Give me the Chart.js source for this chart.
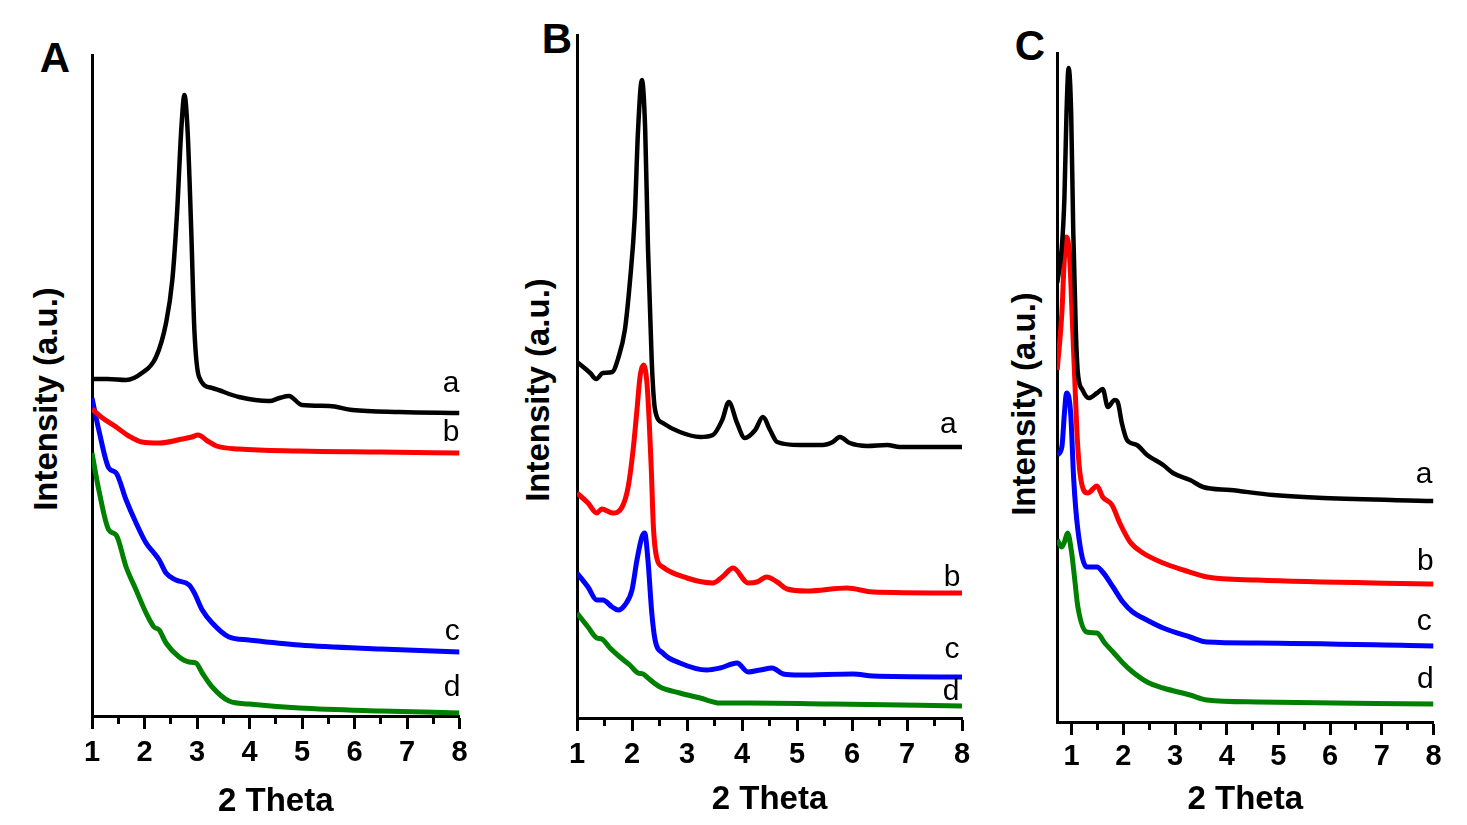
<!DOCTYPE html>
<html>
<head>
<meta charset="utf-8">
<title>XRD patterns</title>
<script src="https://cdn.jsdelivr.net/npm/chart.js@4.4.1/dist/chart.umd.min.js"></script>
<style>
    body {
        margin: 0;
        width: 1467px;
        height: 825px;
        overflow: hidden;
        position: relative;
        background: #fff;
        font-family: Arial, "Liberation Sans", sans-serif;
        color: #000;
    }
    canvas { position: absolute; top: 0; }
    .panel-tag {
        position: absolute;
        font-weight: bold;
        font-size: 42px;
        line-height: 1;
        transform: translate(-50%, -50%);
    }
    .y-title {
        position: absolute;
        font-weight: bold;
        font-size: 33px;
        line-height: 1;
        white-space: nowrap;
        transform: translate(-50%, -50%) rotate(-90deg);
    }
</style>
</head>
<body>
<div class="panel-tag" style="left:55px;top:58px">A</div>
<div class="panel-tag" style="left:557px;top:39px">B</div>
<div class="panel-tag" style="left:1030px;top:46px">C</div>
<div class="y-title" style="left:45px;top:399px">Intensity (a.u.)</div>
<div class="y-title" style="left:537px;top:390px">Intensity (a.u.)</div>
<div class="y-title" style="left:1023px;top:404px">Intensity (a.u.)</div>
<canvas id="chartA" width="480" height="825" style="left:0px"></canvas>
<canvas id="chartB" width="490" height="825" style="left:490px"></canvas>
<canvas id="chartC" width="477" height="825" style="left:990px"></canvas>

<script>
"use strict";

// ---- data: [2 theta, intensity (a.u., offset stacked)] ----
const curveNames = ['a', 'b', 'c', 'd'];
const curveColors = ['#000000', '#ff0000', '#0000ff', '#008000'];

const A_a = [[1.0,337],[1.3,337],[1.65,336],[1.95,343],[2.22,359],[2.41,393],[2.53,436],[2.62,503],[2.70,586],[2.76,621],[2.82,586],[2.89,486],[2.95,386],[3.04,339],[3.29,328],[3.8,319],[4.38,315],[4.57,318],[4.75,320],[5.0,311],[5.52,310],[5.96,306],[6.86,304],[8.0,303]];
const A_b = [[1.0,307],[1.2,298],[1.46,289],[1.7,280],[1.95,274],[2.28,273],[2.72,277],[2.9,279],[3.02,281],[3.2,275],[3.37,270],[3.8,267],[4.95,265],[6.5,264],[8.0,263]];
const A_c = [[1.0,318],[1.13,286],[1.32,248],[1.46,243],[1.65,216],[1.84,193],[2.03,173],[2.18,163],[2.28,156],[2.41,143],[2.6,136],[2.85,131],[2.95,123],[3.1,106],[3.29,93],[3.61,79],[3.99,76],[4.95,71],[6.5,67],[8.0,64]];
const A_d = [[1.0,263],[1.13,226],[1.32,186],[1.46,181],[1.65,149],[1.84,126],[2.03,103],[2.18,89],[2.28,86],[2.41,73],[2.66,59],[2.85,54],[2.98,53],[3.1,43],[3.29,29],[3.61,15],[3.99,12],[4.95,8],[6.5,5],[8.0,3]];

const B_a = [[1.0,356],[1.24,345],[1.35,339],[1.47,345],[1.64,346],[1.75,360],[1.87,388],[1.96,435],[2.05,501],[2.11,588],[2.18,638],[2.24,588],[2.29,471],[2.36,355],[2.42,308],[2.56,295],[2.87,286],[3.24,281],[3.47,283],[3.64,298],[3.76,316],[3.91,295],[4.05,280],[4.24,288],[4.38,301],[4.51,288],[4.64,276],[5.05,273],[5.47,273],[5.65,276],[5.78,281],[5.96,275],[6.27,272],[6.64,273],[6.87,271],[8.0,271]];
const B_b = [[1.0,225],[1.2,215],[1.36,205],[1.45,209],[1.65,205],[1.82,211],[1.93,231],[2.02,268],[2.09,308],[2.15,343],[2.21,353],[2.27,336],[2.31,300],[2.35,250],[2.39,190],[2.45,160],[2.56,151],[3.0,140],[3.47,135],[3.64,141],[3.84,150],[4.11,135],[4.27,136],[4.45,141],[4.64,136],[4.82,129],[5.18,127],[5.91,130],[6.38,126],[8.0,125]];
const B_c = [[1.0,145],[1.2,131],[1.36,118],[1.47,118],[1.64,111],[1.75,108],[1.87,113],[2.0,128],[2.09,158],[2.18,181],[2.23,185],[2.29,158],[2.36,105],[2.42,78],[2.56,65],[2.87,55],[3.36,48],[3.6,50],[3.91,55],[4.11,46],[4.33,48],[4.55,50],[4.75,44],[5.05,43],[6.02,44],[6.38,42],[8.0,41]];
const B_d = [[1.0,105],[1.2,91],[1.36,80],[1.45,79],[1.6,70],[1.78,61],[1.96,53],[2.11,45],[2.2,44],[2.29,40],[2.51,31],[2.87,25],[3.24,20],[3.6,15],[4.15,15],[5.65,14],[8.0,12]];

const C_a = [[0.72,439],[0.81,475],[0.86,525],[0.9,609],[0.94,654],[0.99,609],[1.03,492],[1.08,392],[1.12,349],[1.21,332],[1.33,324],[1.49,329],[1.6,333],[1.7,315],[1.83,322],[1.89,320],[1.97,299],[2.07,282],[2.26,277],[2.46,267],[2.77,257],[2.96,249],[3.29,242],[3.54,235],[4.07,232],[4.9,227],[5.87,224],[8.0,221]];
const C_b = [[0.72,352],[0.81,409],[0.86,465],[0.9,485],[0.96,465],[1.02,392],[1.06,342],[1.1,292],[1.16,249],[1.31,229],[1.49,236],[1.6,225],[1.78,217],[1.93,199],[2.13,180],[2.38,169],[2.77,159],[3.16,152],[3.62,145],[4.59,142],[8.0,138]];
const C_c = [[0.72,267],[0.81,275],[0.86,309],[0.9,329],[0.98,309],[1.04,242],[1.12,192],[1.29,155],[1.49,155],[1.6,150],[1.8,135],[1.99,120],[2.18,110],[2.38,104],[2.77,94],[3.29,85],[3.62,80],[4.59,79],[8.0,76]];
const C_d = [[0.72,182],[0.81,175],[0.86,180],[0.92,189],[1.0,169],[1.06,142],[1.12,115],[1.29,90],[1.49,89],[1.64,79],[1.8,70],[1.99,59],[2.18,50],[2.46,40],[2.77,34],[3.29,27],[3.62,22],[4.59,20],[8.0,18]];

// curve tags, placed in data units
const tagsA = [['a',7.84,332],['b',7.84,283],['c',7.86,84],['d',7.86,28]];
const tagsB = [['a',7.75,293],['b',7.82,140],['c',7.82,68],['d',7.8,26]];
const tagsC = [['a',7.82,247],['b',7.84,160],['c',7.82,100],['d',7.84,42]];

const X_MAX = 8;
const FONT = 'Arial, "Liberation Sans", sans-serif';

Chart.defaults.font.family = FONT;
Chart.defaults.color = '#000';

/**
 * Writes the a/b/c/d tags next to the curve ends.
 */
const curveTagPlugin = {
    id: 'curveTags',
    afterDatasetsDraw(chart, args, opts) {
        const { ctx } = chart;
        const xScale = chart.scales.x;
        const yScale = chart.scales.y;
        ctx.save();
        ctx.font = '30px ' + FONT;
        ctx.fillStyle = '#000';
        ctx.textAlign = 'center';
        ctx.textBaseline = 'middle';
        (opts.tags || []).forEach(([text, x, y]) => {
            ctx.fillText(text, xScale.getPixelForValue(x), yScale.getPixelForValue(y));
        });
        ctx.restore();
    }
};

function renderPanel(canvasId, series, tags, box) {
    const canvas = document.getElementById(canvasId);
    const canvasLeft = parseFloat(canvas.style.left);
    const datasets = series.map((points, i) => ({
        label: curveNames[i],
        data: points.map(([x, y]) => ({ x, y })),
        borderColor: curveColors[i],
        borderWidth: i === 0 ? 4.5 : 5,
        pointRadius: 0,
        fill: false,
        cubicInterpolationMode: 'monotone'
    }));

    return new Chart(canvas, {
        type: 'line',
        data: { datasets },
        plugins: [curveTagPlugin],
        options: {
            responsive: false,
            animation: false,
            events: [],
            layout: {
                padding: {
                    top: box.top,
                    right: canvasLeft + canvas.width - box.right,
                    bottom: 0,
                    left: 0
                }
            },
            plugins: {
                legend: { display: false },
                tooltip: { enabled: false },
                curveTags: { tags }
            },
            scales: {
                x: {
                    type: 'linear',
                    min: box.xMin,
                    max: X_MAX,
                    border: { display: true, color: '#000', width: 3 },
                    grid: {
                        display: true,
                        drawOnChartArea: false,
                        drawTicks: true,
                        tickLength: 13,
                        tickWidth: 3,
                        tickColor: '#000',
                        // half-unit ticks are drawn short
                        tickBorderDash: (c) => (c.tick && !Number.isInteger(c.tick.value)) ? [6, 100] : []
                    },
                    ticks: {
                        stepSize: 0.5,
                        includeBounds: false,
                        autoSkip: false,
                        maxRotation: 0,
                        padding: box.tickPad,
                        color: '#000',
                        font: { size: 29, weight: 'bold' },
                        callback: (v) => Number.isInteger(v) ? String(v) : ''
                    },
                    title: {
                        display: true,
                        text: '2 Theta',
                        color: '#000',
                        font: { size: 33, weight: 'bold' },
                        padding: { top: 0, bottom: box.titlePad }
                    },
                    afterFit: (scale) => { scale.height = canvas.height - box.bottom; }
                },
                y: {
                    type: 'linear',
                    min: 0,
                    max: box.bottom - box.top,
                    border: { display: true, color: '#000', width: 3 },
                    grid: { display: true, drawOnChartArea: false, drawTicks: false },
                    ticks: { display: false },
                    afterFit: (scale) => { scale.width = box.left - canvasLeft; }
                }
            }
        }
    });
}

document.addEventListener('DOMContentLoaded', () => {
    renderPanel('chartA', [A_a, A_b, A_c, A_d], tagsA,
        { left: 92, right: 459.5, top: 55, bottom: 716, xMin: 1, tickPad: 7, titlePad: 3 });
    renderPanel('chartB', [B_a, B_b, B_c, B_d], tagsB,
        { left: 577, right: 962, top: 35, bottom: 718, xMin: 1, tickPad: 7, titlePad: 5 });
    renderPanel('chartC', [C_a, C_b, C_c, C_d], tagsC,
        { left: 1057, right: 1433.5, top: 53, bottom: 722, xMin: 0.716, tickPad: 5, titlePad: 5 });
});
</script>
</body>
</html>
